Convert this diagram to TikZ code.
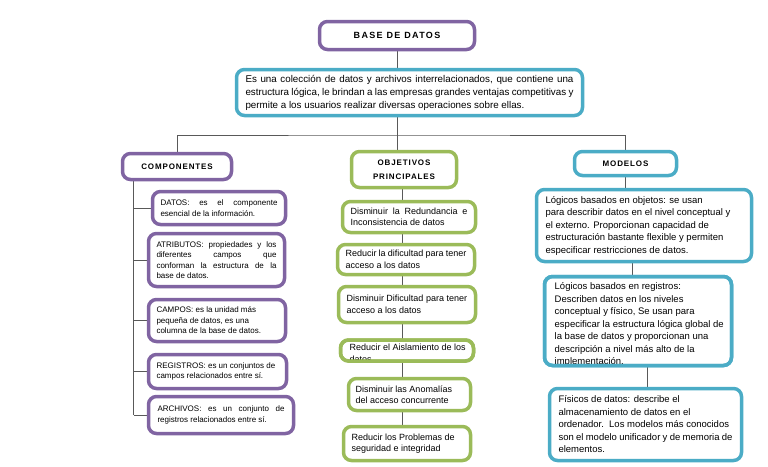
\documentclass[tikz,border=0pt]{standalone}
\usepackage{fontspec}
\setmainfont{Liberation Sans}
\newfontfamily\headfont[LetterSpace=11]{Liberation Sans}
\newfontfamily\titlefont[LetterSpace=15]{Liberation Sans}
\usetikzlibrary{backgrounds}
\definecolor{bdpurple}{HTML}{8064A2}
\definecolor{bdgreen}{HTML}{9BBB59}
\definecolor{bdteal}{HTML}{4BACC6}
\definecolor{bdlink}{HTML}{595959}
\tikzset{
  box/.style={draw,rounded corners=8pt,line width=3.5pt,fill=white,inner sep=0pt,outer sep=0pt,align=justify},
  pbox/.style={box,draw=bdpurple},
  gbox/.style={box,draw=bdgreen},
  tbox/.style={box,draw=bdteal},
  headtxt/.style={font=\headfont\bfseries\fontsize{8}{14}\selectfont,align=center},
  lefttxt/.style={font=\fontsize{8}{10.5}\selectfont},
  midtxt/.style={font=\fontsize{9}{11.5}\selectfont},
  righttxt/.style={font=\fontsize{9.5}{12.5}\selectfont},
  link/.style={draw=bdlink,line width=0.8pt}
}

\begin{document}
\begin{tikzpicture}[x=1pt,y=-1pt]
  \useasboundingbox (0,0) rectangle (768,466);
  % title and definition
  \node[pbox,minimum width=155pt,minimum height=28pt,font=\titlefont\bfseries\fontsize{9}{11}\selectfont] (bd) at (397,35.5) {BASE DE DATOS};
  \node[tbox,minimum width=346pt,minimum height=46pt,text width=328pt,font=\fontsize{9.8}{13}\selectfont] (def) at (409.5,92.5)
    {Es una colección de datos y archivos interrelacionados, que contiene una\linebreak estructura lógica, le brindan a las empresas grandes ventajas competitivas y\linebreak permite a los usuarios realizar diversas operaciones sobre ellas.};

  % headers
  \node[pbox,headtxt,minimum width=109pt,minimum height=26pt] (comp) at (177,166.5) {COMPONENTES};
  \node[gbox,headtxt,minimum width=105pt,minimum height=36pt] (obj) at (404,169.5) {OBJETIVOS\\PRINCIPALES};
  \node[tbox,headtxt,minimum width=102pt,minimum height=24pt] (mod) at (625.5,163.5) {MODELOS};

  % componentes
  \node[pbox,lefttxt,minimum width=133pt,minimum height=33pt,text width=117pt] (datos) at (219,208)
    {DATOS: es el componente\linebreak esencial de la información.};
  \node[pbox,lefttxt,minimum width=136pt,minimum height=53pt,text width=120pt] (atrib) at (216.5,260)
    {ATRIBUTOS: propiedades y los\linebreak diferentes campos que\linebreak conforman la estructura de la\linebreak base de datos.};
  \node[pbox,lefttxt,minimum width=137pt,minimum height=42pt,text width=121pt] (campos) at (217,320.5)
    {CAMPOS: es la unidad más\\ pequeña de datos, es una\\ columna de la base de datos.};
  \node[pbox,lefttxt,minimum width=138pt,minimum height=34pt,text width=122pt] (regis) at (217.5,371.5)
    {REGISTROS: es un conjuntos de\\ campos relacionados entre sí.};
  \node[pbox,lefttxt,minimum width=145pt,minimum height=37pt,text width=127pt] (archi) at (221,415)
    {ARCHIVOS: es un conjunto de\linebreak registros relacionados entre sí.};

  % objetivos
  \node[gbox,midtxt,minimum width=133pt,minimum height=31pt,text width=117pt] (obj1) at (409,217)
    {Disminuir la Redundancia e\linebreak Inconsistencia de datos};
  \node[gbox,midtxt,minimum width=137pt,minimum height=30pt,text width=121pt] (obj2) at (406,259.5)
    {Reducir la dificultad para tener\\ acceso a los datos};
  \node[gbox,midtxt,minimum width=137pt,minimum height=36pt,text width=121pt] (obj3) at (407,304.5)
    {Disminuir Dificultad para tener\\ acceso a los datos};
  \node[gbox,minimum width=133pt,minimum height=21pt] (obj4) at (407,350.5) {};
  \begin{scope}
    \clip[rounded corners=8pt] (obj4.north west) rectangle (obj4.south east);
    \node[midtxt,inner sep=0pt,anchor=north west,align=left] (obj4txt) at ([xshift=9pt,yshift=-4pt]obj4.north west)
      {Reducir el Aislamiento de los\\ datos};
  \end{scope}
  \draw[bdgreen,line width=3.5pt,rounded corners=8pt] (obj4.north west) rectangle (obj4.south east);
  \node[gbox,midtxt,minimum width=122pt,minimum height=32pt,text width=108pt] (obj5) at (409.5,394.5)
    {Disminuir las Anomalías\\ del acceso concurrente};
  \node[gbox,midtxt,minimum width=127pt,minimum height=34pt,text width=111pt] (obj6) at (407,443.5)
    {Reducir los Problemas de\\ seguridad e integridad};

  % modelos
  \node[tbox,righttxt,minimum width=215pt,minimum height=72pt,text width=197pt] (objetos) at (644,225.5)
    {Lógicos basados en objetos: se usan\\ para describir datos en el nivel conceptual y\\ el externo. Proporcionan capacidad de\\ estructuración bastante flexible y permiten\\ especificar restricciones de datos.};
  \node[tbox,minimum width=187pt,minimum height=89pt] (regmod) at (638,321) {};
  \begin{scope}
    \clip[rounded corners=8pt] (regmod.north west) rectangle (regmod.south east);
    \node[righttxt,inner sep=0pt,anchor=north west,align=left] (regmodtxt) at ([xshift=10pt,yshift=-6pt]regmod.north west)
      {Lógicos basados en registros:\\ Describen datos en los niveles\\ conceptual y físico, Se usan para\\ especificar la estructura lógica global de\\ la base de datos y proporcionan una\\ descripción a nivel más alto de la\\ implementación.};
  \end{scope}
  \draw[bdteal,line width=3.5pt,rounded corners=8pt] (regmod.north west) rectangle (regmod.south east);
  \node[tbox,righttxt,minimum width=192pt,minimum height=72pt,text width=174pt] (fisicos) at (645.5,424.5)
    {Físicos de datos: describe el\\ almacenamiento de datos en el\\ ordenador.\ \ Los modelos más conocidos\\ son el modelo unificador y de memoria de\\ elementos.};

  % connectors
  \coordinate (bus) at (397,135);
  \coordinate (ltrunk) at ([xshift=11pt]comp.south west);
  \coordinate (mtrunk) at ([xshift=-2pt]obj.south);
  \coordinate (r1) at ([xshift=-12pt]objetos.south);
  \coordinate (r2) at ([xshift=9pt]regmod.south);
  \begin{scope}[on background layer]
    \draw[link] (bd.south) -- (bd.south |- def.north);
    \draw[link] (bd.south |- def.south) -- (bus);
    \draw[link] (comp.north) |- (bus) -| (mod.north);
    \draw[link] (bus) -- (bus |- obj.north);
    \draw[link] (ltrunk) -- (ltrunk |- archi.west);
    \foreach \b in {datos,atrib,campos,regis,archi}
      \draw[link] (ltrunk |- \b.west) -- (\b.west);
    \draw[link] (mtrunk) -- (mtrunk |- obj6.north);
    \draw[link] (mod.south) -- (mod.south |- objetos.north);
    \draw[link] (r1) -- (r1 |- regmod.north);
    \draw[link] (r2) -- (r2 |- fisicos.north);
  \end{scope}
\end{tikzpicture}
\end{document}
